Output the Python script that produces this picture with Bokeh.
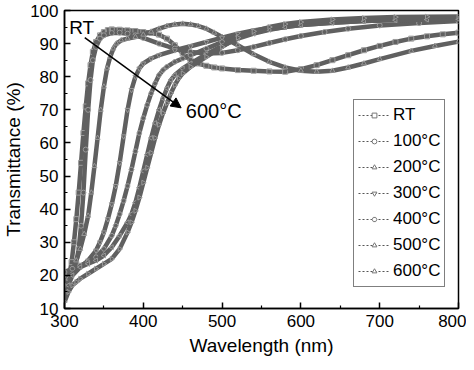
import math
from bokeh.plotting import figure
from bokeh.models import (ColumnDataSource, Legend, LegendItem, FixedTicker, Label,
                          Arrow, NormalHead)
from bokeh.embed import file_html
from bokeh.resources import INLINE

FONT = "Arial"

labels = ["RT", "100°C", "200°C", "300°C", "400°C", "500°C", "600°C"]
markers = ["square", "circle", "triangle", "inverted_triangle", "hex", "triangle", "triangle"]
angles = [0, 0, 0, 0, 0, math.pi / 2, -math.pi / 2]

wl_rt = [300,303,306,309,312,315,318,321,324,327,330,333,336,340,345,350,355,360,370,380,390,400,410,420,430,440,450,460,470,480,490,500,520,540,560,580,600,620,640,660,680,700,720,740,760,780,800]
t_rt = [15,17,20,24,30,37,45,54,63,71,78,83.5,87.5,90.5,92.5,93.5,94.1,94.3,94.2,94,93.8,93.5,93.2,92.7,91.5,89.5,87,85,84,83.3,82.8,82.5,82,81.8,81.6,81.5,82.3,83.5,85,86.5,88,89.3,90.5,91.5,92.2,92.8,93.3]

wl_100 = [300,305,310,315,318,321,324,327,330,333,336,340,345,350,360,370,380,390,400,420,440,460,480,500,520,540,560,580,600,630,660,700,750,800]
t_100 = [18,19.5,21,24,28,35,45,58,70,79,85,89,91.5,92.5,93.2,93.3,93,92.5,91.7,90,88.5,87.5,87,87.2,88,89,90.2,91.3,92.3,93.5,94.5,95.5,96.2,96.8]

wl_200 = [300,305,310,315,320,325,330,334,338,342,346,350,354,358,362,366,372,380,390,400,410,420,430,440,450,460,470,480,490,500,520,540,560,580,600,620,640,660,680,700,740,770,800]
t_200 = [17,19,21.5,24.5,28,32.5,38,45,53,61.5,70,77,82.5,86,88.5,90,91,91.5,92,92.7,93.6,94.5,95.3,95.8,96,95.8,95.3,94.5,93.3,92,89.5,86.8,84.5,82.8,81.8,81.5,81.8,82.8,84,85.3,87.8,89.3,90.6]

wl_300 = [300,310,320,330,340,345,350,355,360,365,370,375,380,385,390,395,400,410,420,440,460,480,500,520,540,560,580,600,640,680,720,760,800]
t_300 = [20,21,22.5,24.5,27.5,30,33,37,41.5,47,54,62,70,76,80,82.5,84,85.5,86.5,88,89.2,90.5,91.8,93,94,94.7,95.3,95.8,96.5,97,97.3,97.5,97.7]

wl_400 = [300,310,320,330,340,350,360,365,370,375,380,385,390,395,400,405,410,415,420,425,430,440,450,460,480,500,520,540,560,580,600,640,680,720,760,800]
t_400 = [21,22,23,24,25.5,28,32,35,38.5,42.5,47,52,57.5,63,67.5,71.5,75,78,80.5,82,83,84.5,85.5,86.5,88.5,90.5,92,93.3,94.3,95,95.6,96.3,96.8,97.1,97.3,97.5]

wl_500 = [300,305,310,320,330,340,350,360,370,380,385,390,395,400,405,410,415,420,425,430,435,440,450,460,480,500,520,540,560,580,600,640,680,720,760,800]
t_500 = [13,17,20,22.5,23.5,24.5,26,28.5,32,36,38.5,42,46.5,51.5,56.5,61.5,66,70,73.5,76.5,79,80.5,82.5,84,86.8,89.3,91.5,93,94.2,95,95.6,96.3,96.8,97.1,97.3,97.4]

wl_600 = [300,305,310,315,320,330,340,350,360,370,380,385,390,395,400,405,410,415,420,425,430,435,440,445,450,460,480,500,520,540,560,580,600,640,680,720,760,800]
t_600 = [12,15,17,18,19,20.5,22,23.5,25,28,33,36,39.5,43.5,48,52.5,57,61.5,65.5,69,72,75,77.5,79.5,81,83,86,89,91.8,93.7,95,95.9,96.5,97.3,97.7,98,98.1,98.2]

x_ticks = [300, 400, 500, 600, 700, 800]
x_minor = [350, 450, 550, 650, 750]
y_ticks = [10, 20, 30, 40, 50, 60, 70, 80, 90, 100]
y_minor = [15, 25, 35, 45, 55, 65, 75, 85, 95]

series = [(wl_rt, t_rt), (wl_100, t_100), (wl_200, t_200), (wl_300, t_300),
          (wl_400, t_400), (wl_500, t_500), (wl_600, t_600)]

p = figure(width=466, height=362, x_range=(300, 800), y_range=(10, 100),
           output_backend="svg", toolbar_location=None,
           min_border_left=62, min_border_right=8, min_border_top=10, min_border_bottom=54)
p.xgrid.visible = False
p.ygrid.visible = False
p.outline_line_color = "black"
p.outline_line_width = 1.5
p.background_fill_color = "white"
p.border_fill_color = "white"

for (wl, t), m, a in zip(series, markers, angles):
    src = ColumnDataSource(dict(x=wl, y=t))
    p.line("x", "y", source=src, line_width=4.5, line_color="#606060")
    p.scatter("x", "y", source=src, marker=m, angle=a, size=5,
              line_color="#9a9a9a", line_width=1, fill_alpha=0)

items = []
for lab, m, a in zip(labels, markers, angles):
    dummy = ColumnDataSource(dict(x=[-1000, -999], y=[-1000, -999]))
    dl = p.line("x", "y", source=dummy, line_color="#555555", line_width=1, line_dash="2 2")
    dm = p.scatter("x", "y", source=dummy, marker=m, angle=a, size=4,
                   line_color="#777777", fill_color="white", line_width=1)
    items.append(LegendItem(label=lab, renderers=[dl, dm]))

legend = Legend(items=items, location=(289, 21), glyph_width=32, glyph_height=12,
                label_height=22, spacing=4, padding=4, margin=0, label_standoff=3,
                label_text_font=FONT, label_text_font_size="17px", label_text_color="black",
                border_line_color="black", border_line_width=1,
                background_fill_color="white", background_fill_alpha=1)
p.add_layout(legend, "center")

for ax in (p.xaxis[0], p.yaxis[0]):
    ax.axis_line_width = 1.5
    ax.major_tick_line_width = 1.5
    ax.minor_tick_line_width = 1.2
    ax.major_tick_in = 6
    ax.major_tick_out = 0
    ax.minor_tick_in = 3
    ax.minor_tick_out = 0
    ax.major_label_text_font = FONT
    ax.major_label_text_font_size = "17px"
    ax.major_label_text_color = "black"
    ax.axis_label_text_font = FONT
    ax.axis_label_text_font_size = "19px"
    ax.axis_label_text_font_style = "normal"
    ax.axis_label_text_color = "black"

p.xaxis.ticker = FixedTicker(ticks=x_ticks, minor_ticks=x_minor)
p.yaxis.ticker = FixedTicker(ticks=y_ticks, minor_ticks=y_minor)
p.xaxis.axis_label = "Wavelength (nm)"
p.yaxis.axis_label = "Transmittance (%)"
p.xaxis.major_label_standoff = 6
p.yaxis.major_label_standoff = 6
p.xaxis.axis_label_standoff = 5
p.yaxis.axis_label_standoff = 3

p.add_layout(Label(x=306, y=94.9, text="RT", text_font=FONT, text_font_size="19px",
                   text_color="black", text_baseline="alphabetic"))
p.add_layout(Label(x=454, y=69.6, text="600°C", text_font=FONT, text_font_size="20px",
                   text_color="black", text_baseline="alphabetic"))
p.add_layout(Arrow(end=NormalHead(size=10, fill_color="black", line_color="black"),
                   x_start=325.7, y_start=91.8, x_end=448, y_end=70.6,
                   line_width=1.5, line_color="black"))

open("out.html", "w").write(file_html(p, INLINE))
